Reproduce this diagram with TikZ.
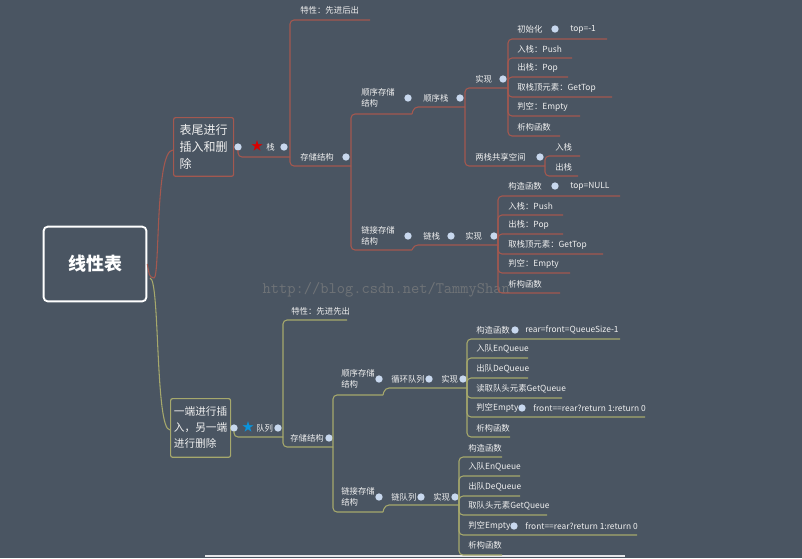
\documentclass[tikz,border=0pt]{standalone}
\usepackage{fontspec}
\setmainfont{Noto Sans CJK SC}
\definecolor{bg}{HTML}{4A5562}
\definecolor{sline}{HTML}{A4584F}
\definecolor{qline}{HTML}{A6A86C}
\definecolor{txt}{HTML}{F0F0F0}
\definecolor{dotc}{HTML}{C8D8EE}
\tikzset{
 lab/.style={anchor=west,inner sep=0pt,text=txt,font=\fontsize{6.3}{8.5}\selectfont,align=left},
 dot/.style={circle,fill=dotc,inner sep=0pt,minimum size=5.5pt},
 box/.style={draw,line width=0.9pt,rounded corners=1.5pt,inner sep=2.5pt,anchor=north west,text=txt,align=left,font=\fontsize{9}{12.5}\selectfont},
 ln/.style={line width=0.8pt,rounded corners=3pt},
}
\newcommand{\br}[4]{\draw[ln] (#1,#2) -- (#1,#3) -- (#4,#3);}
\newcommand{\dt}[3]{\node[dot] (#1) at (#2,#3) {};}
\begin{document}
\begin{tikzpicture}[x=0.75pt,y=-0.75pt]
\fill[bg] (0,0) rectangle (802,558);
\useasboundingbox (0,0) rectangle (802,558);
% watermark
\node[anchor=west,text=gray!70!bg,font=\ttfamily\fontsize{12}{14}\selectfont] (wm) at (258,290) {http://blog.csdn.net/TammyShan};
\draw[white!85!bg,line width=1pt] (205,556) -- (625,556);
% root
\node[draw=white,line width=1.4pt,rounded corners=3pt,minimum width=77pt,minimum height=56pt,text=white,font=\bfseries\fontsize{13.5}{16}\selectfont] (root) at (95,264) {线性表};
% ================= stack =================
\begin{scope}[sline]
\draw[ln] (root.east) -- (150,278) .. controls (160,278) and (155,150) .. (173,150);
\draw[ln,qline] (150,278) .. controls (160,278) and (155,430) .. (170,430);
\node[box,draw=sline,minimum width=45pt,minimum height=44pt] (sbox) at (173,117) {表尾进行\\插入和删\\除};
\dt{d1}{238}{147}
\draw[ln] (238,150) -- (238,157) -- (290,157);
\node[text=red!85!black,font=\fontsize{9}{9}\selectfont,inner sep=0pt] (st) at (257,146) {★};
\node[lab] (zhan) at (266,147) {栈};
\dt{d2}{284}{147}
\br{290}{157}{20}{370}
\node[lab] (tx1) at (300,10) {特性：先进后出};
\br{290}{157}{166}{351}
\node[lab] (cc1) at (300,157) {存储结构}; \dt{d3}{346}{157}
\br{351}{166}{114}{412}
\node[lab] (sx1) at (361,98) {顺序存储\\结构}; \dt{d4}{408}{98}
\draw[ln] (412,114) -- (414,107) -- (465,107);
\node[lab] (sxz) at (423,98) {顺序栈}; \dt{d5}{460}{98}
\br{465}{107}{88}{508}
\node[lab] (sh1) at (475,79) {实现}; \dt{d6}{503}{79}
\br{508}{88}{39}{607}
\node[lab] (a1) at (517,29) {初始化}; \dt{d7}{555}{29}
\node[lab] (a1b) at (570,29) {top=-1};
\br{508}{88}{58}{572} \node[lab] (a2) at (517,49) {入栈：Push};
\br{508}{88}{77}{568} \node[lab] (a3) at (517,68) {出栈：Pop};
\br{508}{88}{97}{612} \node[lab] (a4) at (517,88) {取栈顶元素：GetTop};
\br{508}{88}{116}{580} \node[lab] (a5) at (517,107) {判空：Empty};
\br{508}{88}{136}{560} \node[lab] (a6) at (517,127) {析构函数};
\br{465}{107}{166}{545}
\node[lab] (gx) at (475,157) {两栈共享空间}; \dt{d8}{540}{157}
\br{545}{166}{156}{580} \node[lab] (b1) at (555,147) {入栈};
\br{545}{166}{176}{578} \node[lab] (b2) at (555,167) {出栈};
\br{351}{166}{250}{412}
\node[lab] (lj1) at (361,236) {链接存储\\结构}; \dt{d9}{408}{236}
\draw[ln] (412,250) -- (414,245) -- (498,245);
\node[lab] (lz) at (423,236) {链栈}; \dt{d10}{451}{236}
\node[lab] (sh2) at (465,236) {实现}; \dt{d11}{494}{236}
\br{498}{245}{196}{620}
\node[lab] (c1) at (508,186) {构造函数}; \dt{d12}{555}{186}
\node[lab] (c1b) at (570,186) {top=NULL};
\br{498}{245}{215}{563} \node[lab] (c2) at (508,206) {入栈：Push};
\br{498}{245}{234}{563} \node[lab] (c3) at (508,225) {出栈：Pop};
\br{498}{245}{254}{603} \node[lab] (c4) at (508,245) {取栈顶元素：GetTop};
\br{498}{245}{273}{570} \node[lab] (c5) at (508,264) {判空：Empty};
\br{498}{245}{293}{560} \node[lab] (c6) at (508,284) {析构函数};
\end{scope}
% ================= queue =================
\begin{scope}[qline]
\node[box,draw=qline,minimum width=42pt,minimum height=44pt,font=\fontsize{8}{12}\selectfont] (qbox) at (170,398) {一端进行插\\入，另一端\\进行删除};
\dt{e1}{234}{428}
\draw[ln] (234,431) -- (234,437) -- (283,437);
\node[text=cyan!80!blue,font=\fontsize{9}{9}\selectfont,inner sep=0pt] (qs) at (248,427) {★};
\node[lab] (dl) at (256,428) {队列};
\dt{e2}{278}{428}
\br{283}{437}{320}{347}
\node[lab] (tx2) at (291,311) {特性：先进先出};
\br{283}{437}{447}{333}
\node[lab] (cc2) at (290,438) {存储结构}; \dt{e3}{329}{438}
\br{333}{447}{395}{383}
\node[lab] (sx2) at (341,379) {顺序存储\\结构}; \dt{e4}{379}{379}
\draw[ln] (383,395) -- (385,388) -- (467,388);
\node[lab] (xh) at (391,379) {循环队列}; \dt{e5}{429}{379}
\node[lab] (sh3) at (441,379) {实现}; \dt{e6}{463}{379}
\br{467}{388}{339}{620}
\node[lab] (f1) at (476,330) {构造函数}; \dt{e7}{515}{330}
\node[lab] (f1b) at (525,330) {rear=front=QueueSize-1};
\br{467}{388}{358}{528} \node[lab] (f2) at (476,349) {入队EnQueue};
\br{467}{388}{378}{528} \node[lab] (f3) at (476,369) {出队DeQueue};
\br{467}{388}{398}{562} \node[lab] (f4) at (476,389) {读取队头元素GetQueue};
\br{467}{388}{417}{645} \node[lab] (f5) at (476,408) {判空Empty}; \dt{e8}{522}{408}
\node[lab] (f5b) at (533,408) {front==rear?return 1:return 0};
\br{467}{388}{437}{510} \node[lab] (f6) at (476,428) {析构函数};
\br{333}{447}{512}{383}
\node[lab] (lj2) at (341,497) {链接存储\\结构}; \dt{e9}{379}{497}
\draw[ln] (383,512) -- (385,505) -- (459,505);
\node[lab] (ldl) at (391,497) {链队列}; \dt{e10}{421}{497}
\node[lab] (sh4) at (433,497) {实现}; \dt{e11}{455}{497}
\br{459}{505}{457}{502} \node[lab] (g1) at (468,448) {构造函数};
\br{459}{505}{476}{520} \node[lab] (g2) at (468,467) {入队EnQueue};
\br{459}{505}{496}{520} \node[lab] (g3) at (468,487) {出队DeQueue};
\br{459}{505}{515}{547} \node[lab] (g4) at (468,506) {取队头元素GetQueue};
\br{459}{505}{535}{637} \node[lab] (g5) at (468,526) {判空Empty}; \dt{e12}{514}{526}
\node[lab] (g5b) at (525,526) {front==rear?return 1:return 0};
\br{459}{505}{555}{502} \node[lab] (g6) at (468,545) {析构函数};
\end{scope}
\end{tikzpicture}
\end{document}
